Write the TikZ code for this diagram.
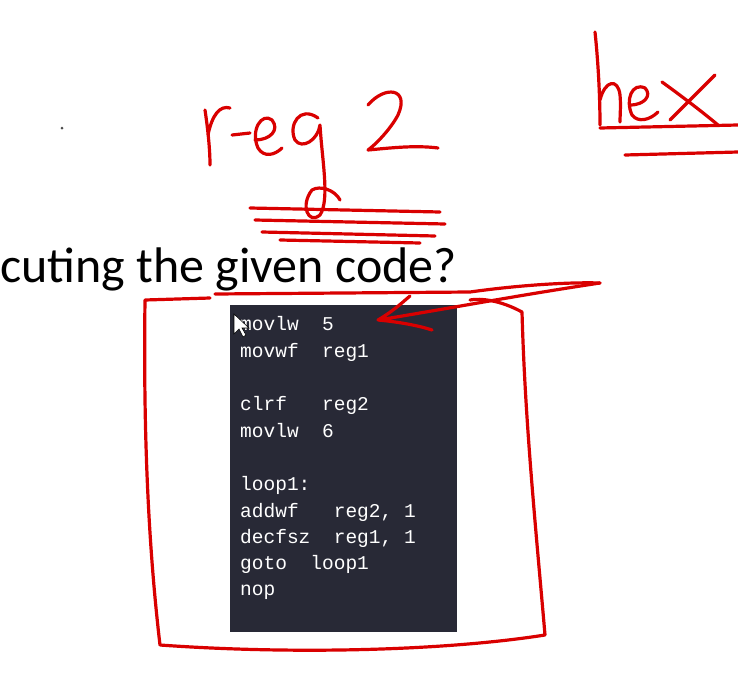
\documentclass[tikz,border=0pt]{standalone}
\usepackage{fontspec}
\setmainfont{Carlito}
\newfontfamily\codefont{Liberation Mono}
\begin{document}
\begin{tikzpicture}[x=1pt,y=-1pt,
  ink/.style={draw=red!85!black,line width=3.2pt,line cap=round,line join=round},
  code/.style={anchor=base west,text=white,font=\codefont\fontsize{19.5}{19.5}\selectfont,inner sep=0pt}]
\useasboundingbox (0,0) rectangle (738,685);
\fill[white] (0,0) rectangle (738,685);
% dot
\fill[black!70] (62,128) circle (1.5);
% title
\node[anchor=base west,inner sep=0pt,font=\fontsize{50}{50}\selectfont] (title) at (0,282) {cuting the given code?};
% code panel
\fill[fill={rgb,255:red,40;green,41;blue,54}] (230,305) rectangle (457,632);
\node[code] (c1) at (240,330) {movlw\ \ 5};
\node[code] (c2) at (240,357) {movwf\ \ reg1};
\node[code] (c3) at (240,410) {clrf\ \ \ reg2};
\node[code] (c4) at (240,437) {movlw\ \ 6};
\node[code] (c5) at (240,490) {loop1:};
\node[code] (c6) at (240,517) {addwf\ \ \ reg2, 1};
\node[code] (c7) at (240,543) {decfsz\ \ reg1, 1};
\node[code] (c8) at (240,569) {goto\ \ loop1};
\node[code] (c9) at (240,595) {nop};
% cursor
\filldraw[fill=white,draw=black,line width=0.6pt] (234,314) -- (234,334) -- (239,329) -- (243,337) -- (246,335) -- (242,328) -- (249,328) -- cycle;
% r-eg2
\draw[ink] (205,110) .. controls (208,130) and (210,150) .. (210,165) (208,135) .. controls (212,115) and (220,105) .. (230,108);
\draw[ink] (232,135) -- (250,133);
\draw[ink] (255,140) .. controls (270,140) and (280,130) .. (272,120) .. controls (262,112) and (250,130) .. (258,148) .. controls (264,158) and (275,155) .. (282,148);
\draw[ink] (318,118) .. controls (300,105) and (288,125) .. (295,140) .. controls (302,150) and (318,140) .. (320,125) .. controls (322,160) and (330,200) .. (320,215) .. controls (308,225) and (300,205) .. (312,190) .. controls (320,185) and (335,190) .. (340,200);
\draw[ink] (368,105) .. controls (385,85) and (410,88) .. (398,115) .. controls (390,130) and (375,145) .. (368,150) .. controls (390,148) and (415,145) .. (438,148);
\draw[ink] (250,208) -- (440,212);
\draw[ink] (255,220) -- (445,224);
\draw[ink] (262,232) -- (435,236);
\draw[ink] (280,240) -- (420,243);
% hex
\draw[ink] (595,32) .. controls (598,60) and (600,95) .. (600,125) (600,100) .. controls (605,80) and (618,78) .. (620,95) .. controls (621,105) and (620,115) .. (620,122);
\draw[ink] (630,105) .. controls (645,105) and (652,95) .. (645,88) .. controls (632,82) and (625,100) .. (632,115) .. controls (638,123) and (650,120) .. (658,112);
\draw[ink] (662,82) .. controls (680,95) and (700,110) .. (718,125) (715,75) .. controls (700,90) and (685,105) .. (670,120);
\draw[ink] (600,128) -- (738,125);
\draw[ink] (625,155) -- (738,152);
% underline + arrow
\draw[ink] (215,294) -- (470,292) .. controls (520,285) and (570,282) .. (600,283);
\draw[ink] (600,283) .. controls (520,295) and (440,310) .. (378,320) .. controls (395,310) and (405,300) .. (410,296) (378,320) .. controls (400,322) and (420,326) .. (432,330);
% red frame
\draw[ink] (145,300) .. controls (143,450) and (150,560) .. (160,645) .. controls (300,655) and (450,650) .. (545,635) .. controls (535,520) and (525,420) .. (522,312) .. controls (500,300) and (480,298) .. (470,300) (145,300) -- (210,298);
\end{tikzpicture}
\end{document}
